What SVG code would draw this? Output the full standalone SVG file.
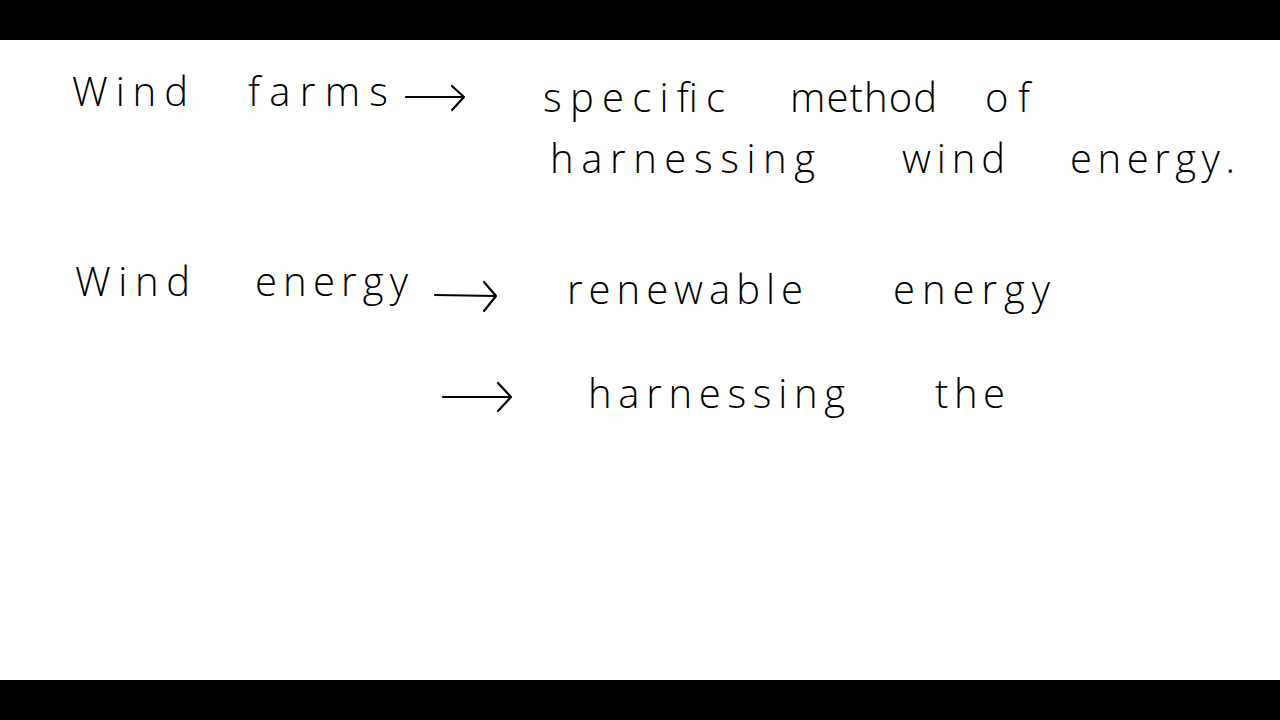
<svg xmlns="http://www.w3.org/2000/svg" width="1280" height="720" viewBox="0 0 1280 720">
<style>
.t{font-family:"Open Sans","Liberation Sans",Arial,sans-serif;font-weight:300;font-size:40px;fill:#000}
.a{fill:none;stroke:#000;stroke-width:2.2;stroke-linecap:round;stroke-linejoin:round}
</style>
<rect width="1280" height="720" fill="#fff"/>
<rect width="1280" height="40" fill="#000"/>
<rect y="680" width="1280" height="40" fill="#000"/>
<g id="n1"><text class="t" y="106"><tspan x="72" textLength="116" lengthAdjust="spacing">Wind</tspan><tspan x="248" textLength="140" lengthAdjust="spacing">farms</tspan></text></g>
<g id="n2"><text class="t" y="112"><tspan x="543" textLength="182" lengthAdjust="spacing">specific</tspan><tspan x="790" textLength="147" lengthAdjust="spacing">method</tspan><tspan x="985" textLength="45" lengthAdjust="spacing">of</tspan></text>
<text class="t" y="173"><tspan x="550" textLength="265" lengthAdjust="spacing">harnessing</tspan><tspan x="902" textLength="103" lengthAdjust="spacing">wind</tspan><tspan x="1070" textLength="165" lengthAdjust="spacing">energy.</tspan></text></g>
<g id="n3"><text class="t" y="296"><tspan x="75" textLength="115" lengthAdjust="spacing">Wind</tspan><tspan x="255" textLength="153" lengthAdjust="spacing">energy</tspan></text></g>
<g id="n4"><text class="t" y="304"><tspan x="567" textLength="236" lengthAdjust="spacing">renewable</tspan><tspan x="893" textLength="157" lengthAdjust="spacing">energy</tspan></text></g>
<g id="n5"><text class="t" y="408"><tspan x="588" textLength="257" lengthAdjust="spacing">harnessing</tspan><tspan x="935" textLength="70" lengthAdjust="spacing">the</tspan></text></g>
<g id="connectors">
<path class="a" d="M406 97 L464 97 M452 86 L464 97 L452 110"/>
<path class="a" d="M435 295 L496 296 M484 282 L496 296 L484 311"/>
<path class="a" d="M443 397 L511 397 M498 383 L511 397 L498 411"/>
</g>
</svg>
